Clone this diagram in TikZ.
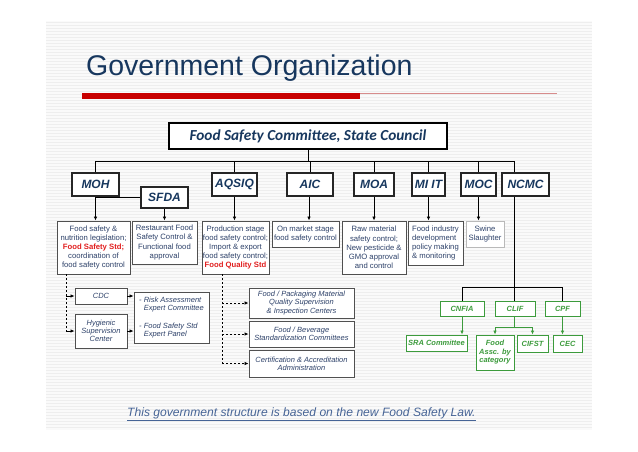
\documentclass[tikz,border=0pt]{standalone}
\usepackage{fontspec}
\setmainfont{Liberation Sans}
\newfontfamily\calfont{Carlito}
\usetikzlibrary{arrows.meta}
\definecolor{navy}{RGB}{23,55,94}
\definecolor{desc}{RGB}{45,65,105}
\definecolor{redstd}{RGB}{225,30,30}
\definecolor{grn}{RGB}{60,155,60}
\definecolor{bord}{RGB}{80,80,80}
\definecolor{linkblue}{RGB}{70,100,150}
\definecolor{barred}{RGB}{200,0,0}
\definecolor{thinred}{RGB}{215,140,140}
\begin{document}
\begin{tikzpicture}[x=1pt,y=-1pt,
  top/.style={draw=black!85, line width=1.2pt, fill=white, inner sep=0pt, minimum height=23pt,
    font=\fontsize{12}{12}\selectfont\bfseries\itshape, text=navy},
  dbox/.style={draw=bord, line width=0.9pt, fill=white, inner sep=0pt, align=center,
    font=\fontsize{7.7}{9.2}\selectfont, text=desc},
  ibox/.style={dbox, font=\fontsize{7.5}{8.3}\selectfont\itshape},
  gbox/.style={draw=grn, line width=0.9pt, fill=white, inner sep=0pt, align=center,
    font=\fontsize{7.5}{8.5}\selectfont\bfseries\itshape, text=grn},
  conn/.style={black, line width=0.8pt},
  arr/.style={conn, -{Latex[length=4pt,width=3.5pt]}},
  dconn/.style={conn, dash pattern=on 2pt off 2pt},
  darr/.style={arr, dash pattern=on 2pt off 2pt},
  gconn/.style={grn, line width=0.8pt},
  garr/.style={gconn, -{Latex[length=4pt,width=3.5pt]}}
]
\useasboundingbox (0,0) rectangle (638,451);
\fill[white] (0,0) rectangle (638,451);
% striped background
\fill[gray!4] (46,21) rectangle (592,430);
\foreach \yy in {22,25,...,429} \draw[gray!13, line width=1pt] (46,\yy) -- (592,\yy);

% title
\node[anchor=base west, inner sep=0pt, text=navy, font=\fontsize{28.5}{30}\selectfont] (title) at (86,75) {Government Organization};
\fill[barred] (82,93) rectangle (360,99);
\draw[thinred, line width=0.8pt] (360,93.5) -- (557,93.5);

% top
\node[draw=black, line width=1.3pt, fill=white, minimum width=278pt, minimum height=26pt, inner sep=0pt,
  font=\calfont\fontsize{15.3}{16}\selectfont\bfseries\itshape, text=navy] (fsc) at (308,136) {Food Safety Committee, State Council};

% ministries
\node[top, minimum width=47pt] (moh) at (95.5,184.5) {MOH};
\node[top, minimum width=47pt, minimum height=21pt] (sfda) at (164.5,197.5) {SFDA};
\node[top, minimum width=45pt] (aqsiq) at (234.5,184.5) {AQSIQ};
\node[top, minimum width=46pt] (aic) at (310,184.5) {AIC};
\node[top, minimum width=40pt] (moa) at (374,184.5) {MOA};
\node[top, minimum width=33pt] (miit) at (428.5,184.5) {MI IT};
\node[top, minimum width=35pt] (moc) at (478.5,184.5) {MOC};
\node[top, minimum width=47pt] (ncmc) at (525.5,184.5) {NCMC};

\coordinate (bus) at (309,161);
\coordinate (nx) at (514,161);
\draw[conn] (fsc.south) -- (fsc.south |- bus);
\draw[conn] (moh.north |- bus) -- (nx);
\foreach \n in {moh,aqsiq,aic,moa,miit,moc} \draw[conn] (\n.north) -- (\n.north |- bus);
\draw[conn] (nx) -- (nx |- ncmc.north);

% descriptions
\node[dbox, minimum width=73pt, minimum height=53pt] (d1) at (93.5,247.5)
  {Food safety \&\\nutrition legislation;\\\textcolor{redstd}{\bfseries Food Safety Std;}\\coordination of\\food safety control};
\node[dbox, minimum width=65pt, minimum height=43pt] (d2) at (164.5,242.5)
  {Restaurant Food\\Safety Control \&\\Functional food\\approval};
\node[dbox, minimum width=67pt, minimum height=53pt] (d3) at (235.5,247.5)
  {Production stage\\food safety control;\\Import \& export\\food safety control;\\\textcolor{redstd}{\bfseries Food Quality Std}};
\node[dbox, minimum width=67pt, minimum height=26pt] (d4) at (305.5,234)
  {On market stage\\food safety control};
\node[dbox, minimum width=64pt, minimum height=53pt] (d5) at (374,247.5)
  {Raw material\\safety control;\\New pesticide \&\\GMO approval\\and control};
\node[dbox, minimum width=55pt, minimum height=44pt, align=left] (d6) at (435.5,243)
  {Food industry\\development\\policy making\\\& monitoring};
\node[dbox, draw=gray!55, minimum width=38pt, minimum height=26pt] (d7) at (485,234)
  {Swine\\Slaughter};

\draw[arr] (moh.south) -- (moh.south |- d1.north);
\draw[conn] (moh.south |- sfda.west) -- (sfda.west);
\draw[arr] (sfda.south) -- (sfda.south |- d2.north);
\draw[arr] (aqsiq.south) -- (aqsiq.south |- d3.north);
\draw[arr] (aic.south -| bus) -- (bus |- d4.north);
\draw[arr] (moa.south) -- (moa.south |- d5.north);
\draw[arr] (miit.south) -- (miit.south |- d6.north);
\draw[arr] (moc.south) -- (moc.south |- d7.north);

% MOH subordinates
\node[ibox, minimum width=52pt, minimum height=16pt] (cdc) at (101,296) {CDC};
\node[ibox, minimum width=52pt, minimum height=34pt] (hyg) at (101,331) {Hygienic\\Supervision\\Center};
\node[ibox, minimum width=75pt, minimum height=51pt, align=left] (risk) at (171.5,317.5)
  {- Risk Assessment\\\phantom{- }Expert Committee\\[9pt]- Food Safety Std\\\phantom{- }Expert Panel};
\coordinate (vm) at (66,0);
\draw[dconn] (d1.south -| vm) -- (vm |- hyg.west);
\draw[arr] (vm |- cdc.west) -- (cdc.west);
\draw[arr] (vm |- hyg.west) -- (hyg.west);
\draw[arr] (cdc.east) -- (cdc.east -| risk.west);
\draw[arr] (hyg.east) -- (hyg.east -| risk.west);

% AQSIQ subordinates
\node[ibox, minimum width=105pt, minimum height=30pt] (q1) at (301.5,303)
  {Food / Packaging Material\\Quality Supervision\\\& Inspection Centers};
\node[ibox, minimum width=105pt, minimum height=26pt] (q2) at (301.5,334)
  {Food / Beverage\\Standardization Committees};
\node[ibox, minimum width=105pt, minimum height=27pt] (q3) at (301.5,363.5)
  {Certification \& Accreditation\\Administration};
\coordinate (vq) at (222,0);
\draw[dconn] (d3.south -| vq) -- (vq |- q3.west);
\draw[darr] (vq |- q1.west) -- (q1.west);
\draw[darr] (vq |- q2.west) -- (q2.west);
\draw[darr] (vq |- q3.west) -- (q3.west);

% NCMC subordinates
\node[gbox, minimum width=44pt, minimum height=15pt] (cnfia) at (462,308.5) {CNFIA};
\node[gbox, minimum width=40pt, minimum height=15pt] (clif) at (515,308.5) {CLIF};
\node[gbox, minimum width=35pt, minimum height=15pt] (cpf) at (562.5,308.5) {CPF};
\node[gbox, minimum width=61pt, minimum height=16pt] (sra) at (436.5,343) {SRA Committee};
\node[gbox, minimum width=38pt, minimum height=35pt] (fac) at (495,352.5) {Food\\Assc. by\\category};
\node[gbox, minimum width=31pt, minimum height=17pt] (cifst) at (532.5,343.5) {CIFST};
\node[gbox, minimum width=29pt, minimum height=17pt] (cec) at (567.5,343.5) {CEC};

\coordinate (gbus) at (514,287);
\draw[conn] (nx |- ncmc.south) -- (gbus);
\draw[conn] (cnfia.north) |- (gbus);
\draw[conn] (cpf.north) |- (gbus);
\draw[conn] (gbus) -- (gbus |- clif.north);
\draw[garr] (cnfia.south) -- (cnfia.south |- sra.north);
\coordinate (gb2) at (514,327);
\draw[gconn] (gb2 |- clif.south) -- (gb2);
\draw[garr] (gb2) -| (fac.north);
\draw[garr] (gb2) -| (cifst.north);
\draw[garr] (cpf.south) -- (cpf.south |- cec.north);

% note
\node[anchor=base west, inner sep=0pt, text=linkblue, font=\fontsize{12.1}{14}\selectfont\itshape] (note) at (127,416)
  {\underline{This government structure is based on the new Food Safety Law.}};
\end{tikzpicture}
\end{document}
